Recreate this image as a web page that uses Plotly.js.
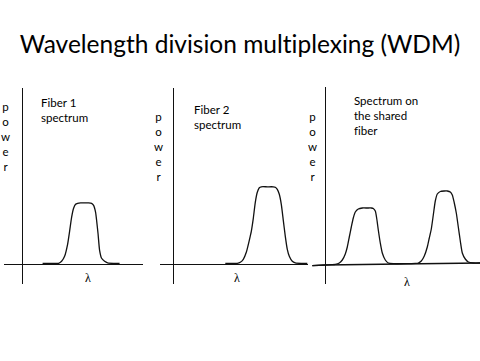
<!DOCTYPE html>
<html>
<head>
<meta charset="utf-8">
<script src="https://cdn.plot.ly/plotly-3.0.1.min.js"></script>
<style>
html,body{margin:0;padding:0;background:#fff;}
#chart{width:480px;height:361px;}
#chart text{font-variant-ligatures:none;font-feature-settings:"liga" 0,"clig" 0;}
</style>
</head>
<body>
<div id="chart"></div>
<script>
// Fiber 1 spectrum (wavelength, power) in arbitrary units
const fiber1Lambda = [20, 30, 36, 39, 42, 45, 47, 49, 51, 53, 55, 58, 62, 66, 69, 71, 73, 74, 75.5, 77, 79, 82, 85, 91, 97];
const fiber1Power  = [1, 1, 1, 3, 8, 20, 33, 47, 56, 60, 61, 61.5, 61.5, 61.5, 61, 59, 52, 44, 30, 14, 6, 3, 1.5, 1, 1];

// Fiber 2 spectrum
const fiber2Lambda = [52, 60, 64, 67, 70, 73, 76, 78, 80, 82, 84, 86, 88, 94, 100, 102, 104, 106, 108, 110, 112, 114, 116, 119, 122, 128, 134];
const fiber2Power  = [1, 1, 1, 2, 5, 12, 24, 33, 46, 62, 72, 76.5, 77.5, 77.5, 77.5, 77, 75, 70, 60, 44, 28, 15, 8, 3, 1.5, 1, 1];

// Spectrum on the shared fiber (both channels)
const sharedLambda = [-13, 0, 6, 10, 14, 17, 20, 22, 24, 26, 28, 30, 33, 37, 42, 46, 48, 50, 51.5, 53, 55, 57, 60, 63, 68, 80,
                      90, 93, 96, 99, 102, 104, 106, 108, 110, 112, 115, 119, 122, 125, 127, 129, 131, 133, 135, 137, 140, 143, 148, 155];
const sharedPower  = [-0.6, 0, 0.3, 0.6, 2, 5, 11, 18, 28, 38, 47, 53, 56, 57, 57, 57, 56.5, 54, 46, 35, 22, 12, 5, 2, 1.3, 1.3,
                      1.6, 2, 4, 9, 18, 27, 36, 50, 64, 71, 73.5, 74, 74, 73, 70, 62, 52, 38, 24, 12, 6, 3, 2, 2];

// Hand-drawn horizontal axis of the shared-fiber plot (slightly tilted)
const sharedAxisLambda = [-13, 0, 75, 155];
const sharedAxisPower  = [-0.7, 0, 1, 2];

const titleText = "Wavelength division multiplexing (WDM)";
const panelLabels = ["Fiber 1<br>spectrum", "Fiber 2<br>spectrum", "Spectrum on<br>the shared<br>fiber"];
const yLabel = "p<br>o<br>w<br>e<br>r";
const xLabel = "λ";

const W = 480, H = 361;
const px = v => v / W;
const py = v => 1 - v / H;

const lineStyle = {color: '#111', width: 1.3, shape: 'spline', smoothing: 0.6};

const traces = [
  {x: fiber1Lambda, y: fiber1Power, xaxis: 'x', yaxis: 'y', mode: 'lines', line: lineStyle, hoverinfo: 'skip'},
  {x: fiber2Lambda, y: fiber2Power, xaxis: 'x2', yaxis: 'y2', mode: 'lines', line: lineStyle, hoverinfo: 'skip'},
  {x: sharedLambda, y: sharedPower, xaxis: 'x3', yaxis: 'y3', mode: 'lines', line: lineStyle, hoverinfo: 'skip'},
  {x: sharedAxisLambda, y: sharedAxisPower, xaxis: 'x3', yaxis: 'y3', mode: 'lines', line: {color: '#111', width: 1.3}, hoverinfo: 'skip'}
];

function ax(domain, range, zero, anchor) {
  return {domain: domain, range: range, anchor: anchor, showgrid: false, showticklabels: false, ticks: '',
          showline: false, zeroline: zero, zerolinecolor: '#111', zerolinewidth: 1.3, fixedrange: true};
}

const labelFont = {family: 'Lato, sans-serif', size: 11.5, color: '#000'};
const lambdaFont = {family: 'Liberation Serif, serif', size: 12, color: '#000'};

const layout = {
  width: W, height: H,
  margin: {l: 0, r: 0, t: 0, b: 0},
  paper_bgcolor: '#fff', plot_bgcolor: 'rgba(0,0,0,0)',
  showlegend: false,
  title: {text: titleText, x: 0.5, xanchor: 'center', y: py(44), yanchor: 'middle', yref: 'container',
          font: {family: 'Lato, sans-serif', size: 24.5, color: '#000'}},
  xaxis:  ax([px(4), px(143)], [-18.6, 120.4], true, 'y'),
  yaxis:  ax([py(284), py(88)], [-19.7, 176.3], true, 'x'),
  xaxis2: ax([px(160), px(308)], [-13.3, 134.7], true, 'y2'),
  yaxis2: ax([py(284), py(88)], [-19.7, 176.3], true, 'x2'),
  xaxis3: ax([px(312), px(480)], [-13.3, 154.7], true, 'y3'),
  yaxis3: ax([py(284), py(87)], [-19, 178], false, 'x3'),
  annotations: [
    {text: yLabel, x: px(5), y: py(137), xref: 'paper', yref: 'paper', xanchor: 'center', yanchor: 'middle', showarrow: false, font: labelFont},
    {text: yLabel, x: px(158), y: py(146), xref: 'paper', yref: 'paper', xanchor: 'center', yanchor: 'middle', showarrow: false, font: labelFont},
    {text: yLabel, x: px(312), y: py(146.5), xref: 'paper', yref: 'paper', xanchor: 'center', yanchor: 'middle', showarrow: false, font: labelFont},
    {text: panelLabels[0], x: px(39), y: py(109.5), xref: 'paper', yref: 'paper', xanchor: 'left', yanchor: 'middle', align: 'left', showarrow: false, font: labelFont},
    {text: panelLabels[1], x: px(192), y: py(117), xref: 'paper', yref: 'paper', xanchor: 'left', yanchor: 'middle', align: 'left', showarrow: false, font: labelFont},
    {text: panelLabels[2], x: px(352), y: py(115.5), xref: 'paper', yref: 'paper', xanchor: 'left', yanchor: 'middle', align: 'left', showarrow: false, font: labelFont},
    {text: xLabel, x: px(88), y: py(278), xref: 'paper', yref: 'paper', xanchor: 'center', yanchor: 'middle', showarrow: false, font: lambdaFont},
    {text: xLabel, x: px(237), y: py(278), xref: 'paper', yref: 'paper', xanchor: 'center', yanchor: 'middle', showarrow: false, font: lambdaFont},
    {text: xLabel, x: px(407), y: py(282), xref: 'paper', yref: 'paper', xanchor: 'center', yanchor: 'middle', showarrow: false, font: lambdaFont}
  ]
};

Plotly.newPlot('chart', traces, layout, {staticPlot: true, displayModeBar: false});
</script>
</body>
</html>
